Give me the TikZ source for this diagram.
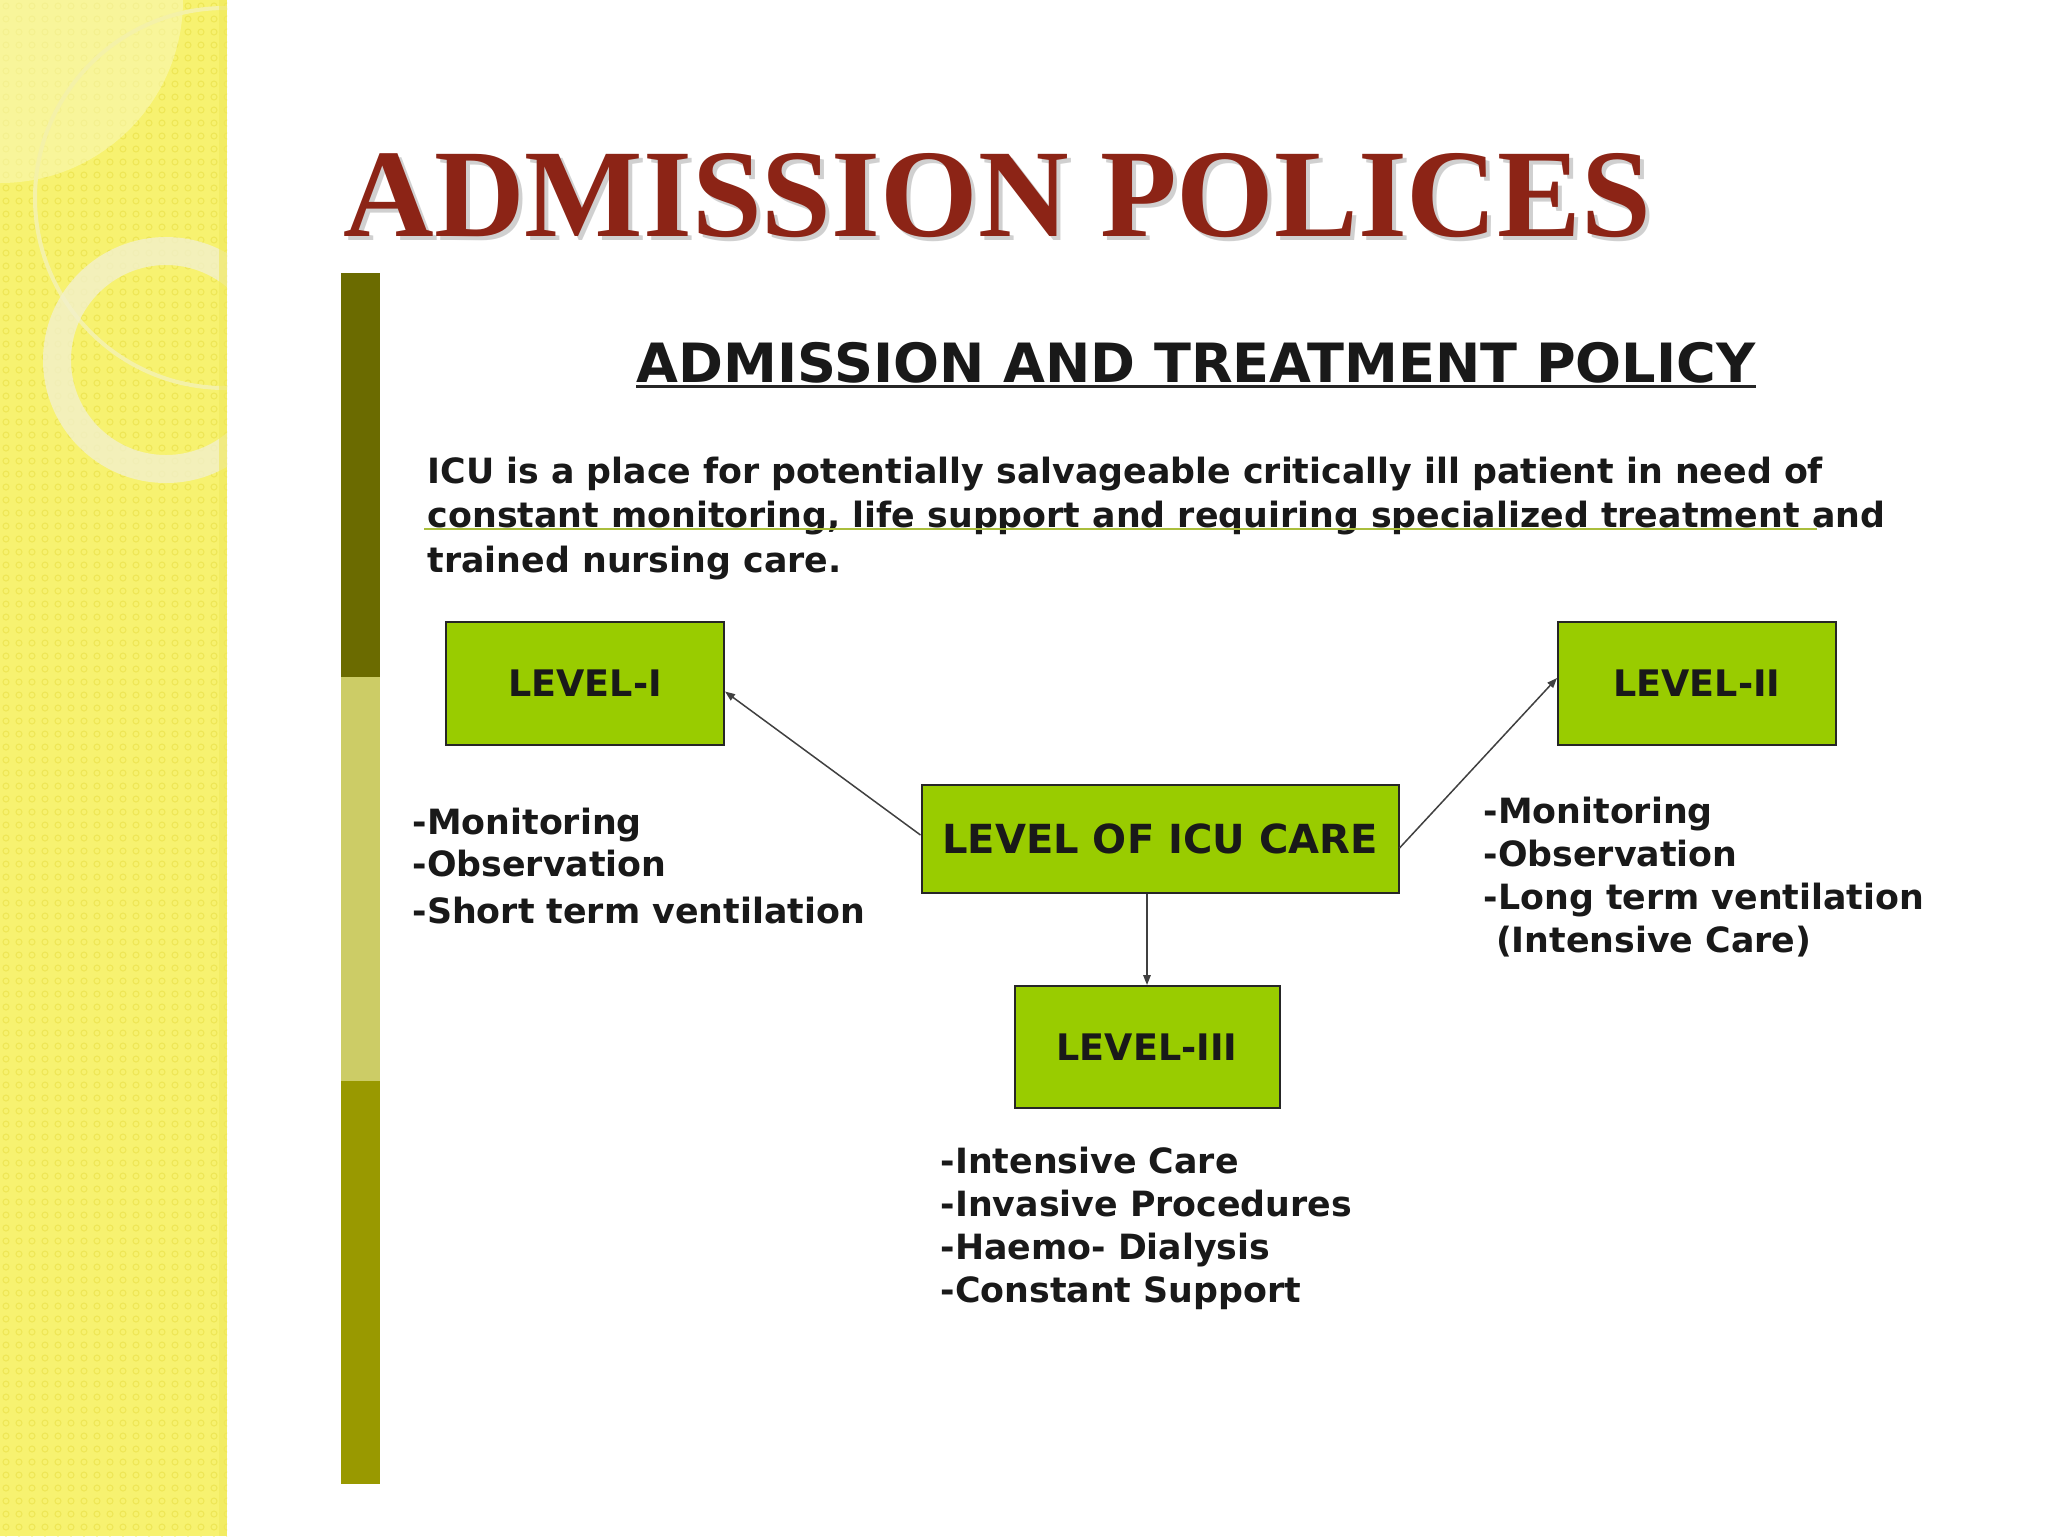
\documentclass[tikz,border=0pt]{standalone}
\usepackage{fontspec}
\newfontfamily\vfont{DejaVu Sans}
\newfontfamily\tfont{Liberation Serif}
\usetikzlibrary{positioning,arrows.meta}
\definecolor{strip}{RGB}{247,242,112}
\definecolor{stripdot}{RGB}{238,230,86}
\definecolor{pale}{RGB}{250,249,190}
\definecolor{ring}{RGB}{242,240,205}
\definecolor{titlered}{RGB}{140,36,22}
\definecolor{boxgreen}{RGB}{153,204,0}
\definecolor{ulgreen}{RGB}{170,190,60}
\definecolor{bardark}{RGB}{107,107,0}
\definecolor{barlight}{RGB}{204,204,102}
\definecolor{barolive}{RGB}{153,153,0}

\begin{document}
\begin{tikzpicture}[x=0.1mm,y=-0.1mm,>={Triangle[length=1mm,width=0.75mm]},
 box/.style={draw=black!85,line width=0.2mm,fill=boxgreen,inner sep=0,font=\vfont\bfseries\fontsize{10.4}{12}\selectfont,text=black!90},
 lst/.style={anchor=base west,inner sep=0,align=left,font=\vfont\bfseries\fontsize{9.9}{12.2}\selectfont,text=black!90},
 arr/.style={->,draw=black!75,line width=0.15mm}]
\useasboundingbox (0,0) rectangle (2048,1536);
\fill[white] (0,0) rectangle (2048,1536);
% left strip
\begin{scope}
\clip (0,0) rectangle (227,1536);
\fill[strip] (0,0) rectangle (227,1536);
\foreach \i in {0,...,17} \foreach \j in {0,...,118} \draw[stripdot,line width=0.1mm] (6+\i*13,6+\j*13) circle[radius=0.3mm];
\fill[pale,opacity=.55] (0,0) -- (183,0) arc[start angle=0,end angle=-90,radius=18.3mm] -- cycle;
\draw[ring!60!strip,line width=0.4mm] (225,198) circle[radius=19mm];
\draw[ring,opacity=.8,line width=2.8mm] (166,360) circle[radius=10.9mm];
\fill[stripdot!80!strip,opacity=.6] (219,0) rectangle (227,1536);
\end{scope}
% bar
\fill[bardark] (341,273) rectangle (380,677);
\fill[barlight] (341,677) rectangle (380,1081);
\fill[barolive] (341,1081) rectangle (380,1484);
% headings
\node[anchor=base west,inner sep=0,text=gray!60,opacity=.6,font=\tfont\bfseries\fontsize{35.7}{40}\selectfont] at (347,240) {ADMISSION POLICES};
\node[anchor=base west,inner sep=0,text=titlered,font=\tfont\bfseries\fontsize{35.7}{40}\selectfont] (title) at (343,236) {ADMISSION POLICES};
\node[anchor=base west,inner sep=0,font=\vfont\bfseries\fontsize{15.4}{18}\selectfont,text=black!90] (sub) at (636,382) {ADMISSION AND TREATMENT POLICY};
\draw[line width=0.3mm,black!85]([yshift=-0.45mm]sub.base west)--([yshift=-0.45mm]sub.base east);
\node[lst,font=\vfont\bfseries\fontsize{9.9}{12.6}\selectfont] (txt) at (427,572) {ICU is a place for potentially salvageable critically ill patient in need of\\constant monitoring, life support and requiring specialized treatment and\\trained nursing care.};
\draw[ulgreen,line width=0.2mm] (424,529)--(1817,529);
% boxes
\node[box,minimum width=27.8mm,minimum height=12.3mm] (l1) at (585,683) {LEVEL-I};
\node[box,minimum width=27.8mm,minimum height=12.3mm] (l2) at (1697,683) {LEVEL-II};
\node[box,minimum width=47.7mm,minimum height=10.8mm,font=\vfont\bfseries\fontsize{11.4}{13}\selectfont] (c) at (1160,839) {LEVEL OF ICU CARE};
\node[box,minimum width=26.5mm,minimum height=12.2mm] (l3) at (1147,1047) {LEVEL-III};
\draw[arr]([yshift=0.4mm]c.west)--([yshift=-0.85mm]l1.east);
\draw[arr]([yshift=-0.9mm]c.east)--([yshift=0.5mm]l2.west);
\draw[arr](c.south -| l3.north)--(l3.north);
% lists
\node[lst] (m1) at (412,923) {-Monitoring\\-Observation\\[0.9pt]-Short term ventilation};
\node[lst] (m2) at (1483,952) {-Monitoring\\-Observation\\-Long term ventilation\\\hspace{3.5pt}(Intensive Care)};
\node[lst] (m3) at (940,1302) {-Intensive Care\\-Invasive Procedures\\-Haemo- Dialysis\\-Constant Support};
\end{tikzpicture}
\end{document}
